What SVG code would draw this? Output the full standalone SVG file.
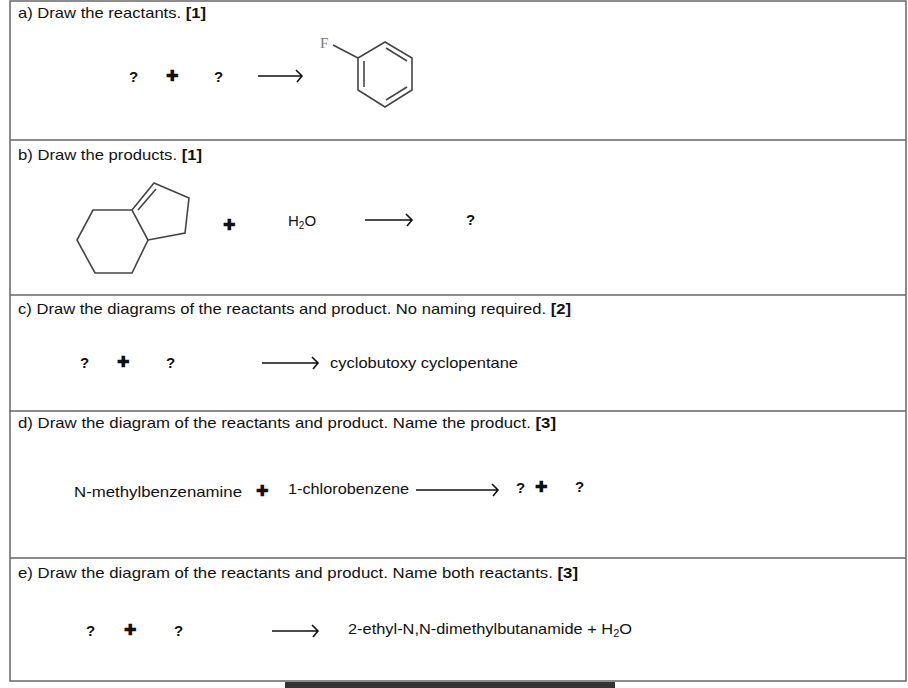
<svg xmlns="http://www.w3.org/2000/svg" width="908" height="688" viewBox="0 0 908 688">
<style>
text{font-family:"Liberation Sans",Arial,sans-serif;font-size:15px;fill:#111}
.q{font-weight:bold;font-size:15px}
.b{font-weight:bold}
.mol{fill:none;stroke:#444;stroke-width:1.6}
.ar{fill:none;stroke:#111;stroke-width:1.6}
.cell{fill:none;stroke:#666;stroke-width:1.5}
</style>
<rect width="908" height="688" fill="#fff"/>
<g id="table">
<rect class="cell" x="10" y="1" width="896" height="680"/>
<line class="cell" x1="10" y1="140" x2="906" y2="140"/>
<line class="cell" x1="10" y1="295" x2="906" y2="295"/>
<line class="cell" x1="10" y1="411" x2="906" y2="411"/>
<line class="cell" x1="10" y1="558" x2="906" y2="558"/>
<rect x="285" y="682" width="330" height="6" fill="#333"/>
</g>
<g id="a">
<text x="18" y="18" textLength="188" lengthAdjust="spacingAndGlyphs">a) Draw the reactants. <tspan class="b">[1]</tspan></text>
<text class="q" x="129" y="82">?</text>
<text class="q" x="166" y="81">✚</text>
<text class="q" x="214" y="82">?</text>
<text x="320" y="48" style="font-family:'Liberation Serif',serif;fill:#777">F</text>
<g class="mol">
<line x1="333" y1="45" x2="358" y2="58"/>
<polygon points="385,42 412,58 412,90 385,107 358,90 358,58"/>
<line x1="386" y1="48" x2="407" y2="61"/>
<line x1="407" y1="87" x2="386" y2="100"/>
<line x1="364" y1="61" x2="364" y2="87"/>
</g>
</g>
<g id="b">
<text x="18" y="160" textLength="184" lengthAdjust="spacingAndGlyphs">b) Draw the products. <tspan class="b">[1]</tspan></text>
<g class="mol">
<polygon points="93,210 132,210 148,240 132,273 95,273 77,240"/>
<polyline points="132,210 154,183 189,198 185,233 148,240"/>
<line x1="138" y1="210" x2="156" y2="189"/>
</g>
<text class="q" x="223" y="230">✚</text>
<text x="288" y="226" font-size="14">H<tspan font-size="10" dy="3">2</tspan><tspan dy="-3">O</tspan></text>
<text class="q" x="466" y="225">?</text>
</g>
<g id="c">
<text x="18" y="314" textLength="553" lengthAdjust="spacingAndGlyphs">c) Draw the diagrams of the reactants and product. No naming required. <tspan class="b">[2]</tspan></text>
<text class="q" x="80" y="368">?</text>
<text class="q" x="117" y="367">✚</text>
<text class="q" x="166" y="368">?</text>
<text x="330" y="368" font-size="14" textLength="188" lengthAdjust="spacingAndGlyphs">cyclobutoxy cyclopentane</text>
</g>
<g id="d">
<text x="18" y="428" textLength="538" lengthAdjust="spacingAndGlyphs">d) Draw the diagram of the reactants and product. Name the product. <tspan class="b">[3]</tspan></text>
<text x="74" y="497" font-size="14" textLength="168" lengthAdjust="spacingAndGlyphs">N-methylbenzenamine</text>
<text x="256" y="496" font-weight="bold">✚</text>
<text x="288" y="494" font-size="14" textLength="121" lengthAdjust="spacingAndGlyphs">1-chlorobenzene</text>
<text class="q" x="516" y="493">?</text>
<text class="q" x="535" y="492">✚</text>
<text class="q" x="575" y="492">?</text>
</g>
<g id="e">
<text x="18" y="578" textLength="560" lengthAdjust="spacingAndGlyphs">e) Draw the diagram of the reactants and product. Name both reactants. <tspan class="b">[3]</tspan></text>
<text class="q" x="86" y="636">?</text>
<text class="q" x="124" y="635">✚</text>
<text class="q" x="174" y="636">?</text>
<text x="348" y="634" font-size="14" textLength="284" lengthAdjust="spacingAndGlyphs">2-ethyl-N,N-dimethylbutanamide + H<tspan font-size="10" dy="3">2</tspan><tspan dy="-3">O</tspan></text>
</g>
<g id="connectors">
<path class="ar" d="M258 76 H302 M296 70 L302 76 L297 82"/>
<path class="ar" d="M365 220 H412 M406 214 L412 220 L407 226"/>
<path class="ar" d="M262 363 H318 M312 357 L318 363 L313 369"/>
<path class="ar" d="M416 490 H498 M492 484 L498 490 L493 496"/>
<path class="ar" d="M272 631 H318 M312 625 L318 631 L313 637"/>
</g>
</svg>
